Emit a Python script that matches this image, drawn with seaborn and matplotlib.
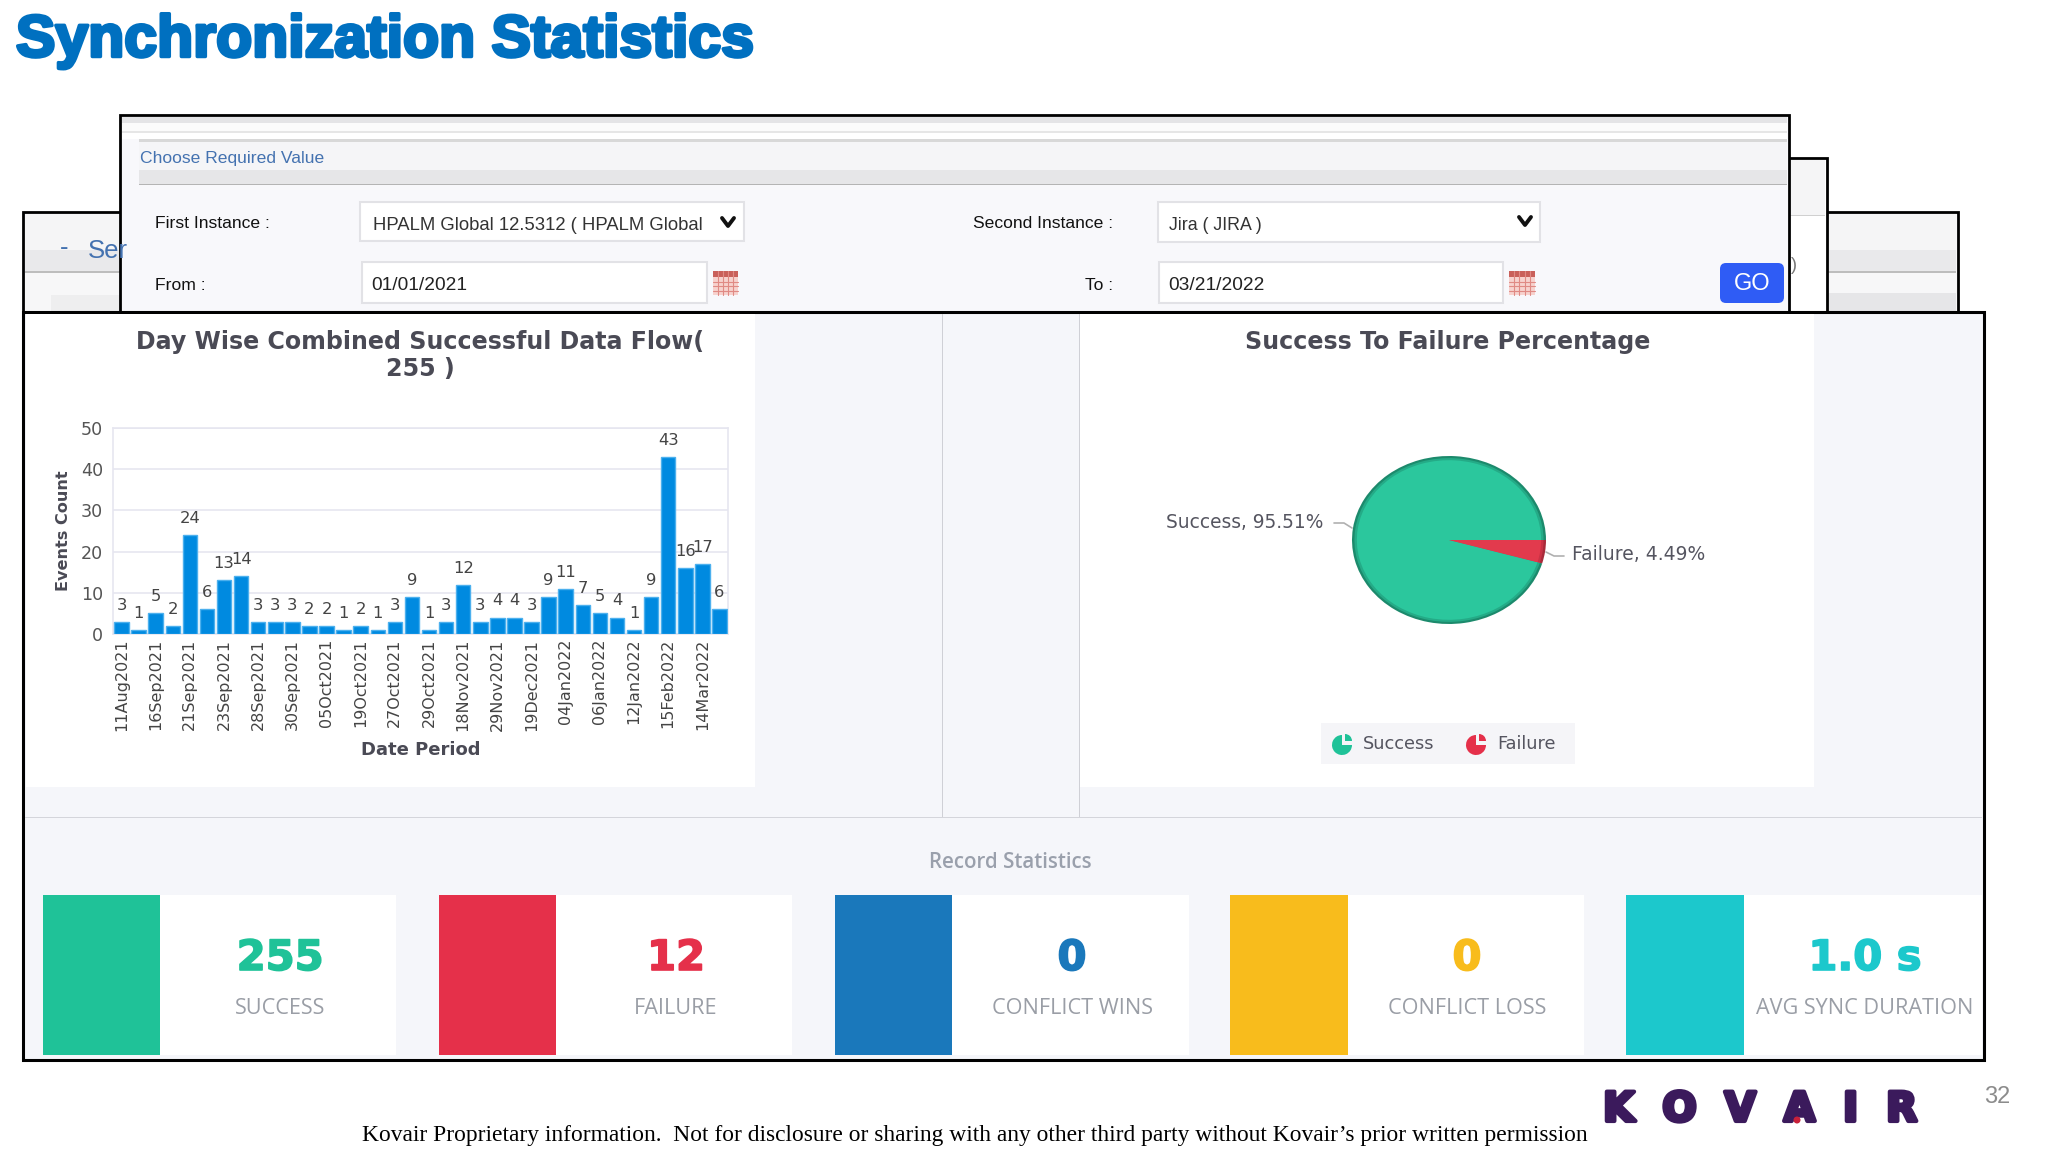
import matplotlib
matplotlib.use("Agg")
from matplotlib import pyplot as plt
from matplotlib.patches import Rectangle, Wedge, FancyBboxPatch, Circle
import matplotlib.patheffects as pe
import seaborn as sns

bar_counts = [3, 1, 5, 2, 24, 6, 13, 14, 3, 3, 3, 2, 2, 1, 2, 1, 3, 9,
              1, 3, 12, 3, 4, 4, 3, 9, 11, 7, 5, 4, 1, 9, 43, 16, 17, 6]
date_labels = ["11Aug2021", "16Sep2021", "21Sep2021", "23Sep2021", "28Sep2021", "30Sep2021",
               "05Oct2021", "19Oct2021", "27Oct2021", "29Oct2021", "18Nov2021", "29Nov2021",
               "19Dec2021", "04Jan2022", "06Jan2022", "12Jan2022", "15Feb2022", "14Mar2022"]
y_ticks = [0, 10, 20, 30, 40, 50]
pie_names = ["Success", "Failure"]
pie_values = [95.51, 4.49]
card_values = ["255", "12", "0", "0", "1.0 s"]
card_names = ["SUCCESS", "FAILURE", "CONFLICT WINS", "CONFLICT LOSS", "AVG SYNC DURATION"]
card_colors = ["#1fc298", "#e5304a", "#1a78bb", "#f8bc1c", "#1cc8cc"]
card_left = [43, 439, 835, 1230, 1626]
card_mid = [160, 556, 952, 1348, 1744]
card_right = [396, 792, 1189, 1584, 1982]
card_text_x = [280, 676, 1072, 1467, 1865]

sns.set_theme(style="white")
plt.rcParams["font.family"] = ["DejaVu Sans"]

W, H = 2048, 1152
fig = plt.figure(figsize=(20.48, 11.52), dpi=100, facecolor="white")

# whole page in pixel coordinates, for the screenshot furniture
bg = fig.add_axes([0, 0, 1, 1])
bg.set_xlim(0, W)
bg.set_ylim(H, 0)
bg.axis("off")


def box(x0, y0, x1, y1, color, edge="none", lw=0, z=1):
    bg.add_patch(Rectangle((x0, y0), x1 - x0, y1 - y0, facecolor=color, edgecolor=edge, linewidth=lw, zorder=z))


def put(x, y, s, size, color="#222222", ha="left", z=5, **kw):
    return bg.text(x, y, s, fontsize=size, color=color, ha=ha, va="center", zorder=z, **kw)


def calendar(x0, y0, x1, y1, z):
    box(x0, y0, x1, y1, "#f7d2ce", z=z)
    box(x0, y0, x1, y0 + 6, "#c9605a", z=z)
    for i in range(1, 5):
        gx = x0 + (x1 - x0) * i / 5
        bg.plot([gx, gx], [y0, y1], color="#e08a84", lw=0.8, zorder=z + 1)
    for i in range(1, 4):
        gy = y0 + 6 + (y1 - y0 - 6) * i / 4
        bg.plot([x0, x1], [gy, gy], color="#e08a84", lw=0.8, zorder=z + 1)


def chevron(x, y, z):
    bg.plot([x - 6, x, x + 6], [y - 4, y + 4, y - 4], color="#111111", lw=2.8, zorder=z)


# page title
put(16, 41, "Synchronization Statistics", 42.5, "#0070c0", fontweight="bold",
    family="Liberation Sans",
    path_effects=[pe.withStroke(linewidth=2.5, foreground="#0070c0")])

# back window on the far side
box(23, 212, 1958, 330, "#f7f7f8", "black", 2, z=1)
box(25, 214, 1956, 272, "#f5f5f6", z=1)
box(25, 250, 1956, 271, "#e9e9eb", z=1)
box(25, 271, 1956, 273, "#bdbdbd", z=1)
box(1790, 293, 1956, 312, "#e6e6e8", z=1)
box(51, 295, 130, 312, "#eeeeef", z=1)
put(60, 248, "-", 17, "#4472b0")
put(88, 251, "Ser", 18.5, "#4472b0", family="Liberation Sans")

# second window
box(1700, 158, 1827, 330, "white", "black", 2, z=2)
box(1702, 160, 1825, 215, "#f5f5f6", z=2)
box(1702, 215, 1825, 216, "#d0d0d0", z=2)
put(1791, 266, ")", 13, "#777777", z=3, family="Liberation Sans")

# form window
box(120, 115, 1789, 330, "#f8f8fb", "black", 2, z=3)
box(122, 117, 1787, 123, "#e4e4e6", z=3)
box(122, 123, 1787, 131, "#fbfbfb", z=3)
box(122, 131, 1787, 133, "#e6e6e6", z=3)
box(122, 133, 1787, 139, "white", z=3)
box(139, 139, 1787, 142, "#d8d8d8", z=3)
box(139, 142, 1787, 170, "#f5f5f7", z=3)
box(139, 170, 1787, 184, "#e6e6e8", z=3)
box(139, 184, 1787, 185, "#b4b4b4", z=3)
put(140, 159, "Choose Required Value", 12.6, "#4472b0", family="Liberation Sans")
put(155, 224, "First Instance :", 12.6, "#111111", family="Liberation Sans")
put(155, 285, "From :", 12.6, "#111111", family="Liberation Sans")
put(1113, 224, "Second Instance :", 12.6, "#111111", ha="right", family="Liberation Sans")
put(1113, 285, "To :", 12.6, "#111111", ha="right", family="Liberation Sans")
for x0, y0, x1, y1 in [(360, 202, 744, 241), (362, 262, 707, 303), (1158, 202, 1540, 242), (1159, 262, 1503, 303)]:
    box(x0, y0, x1, y1, "white", "#e2e2e6", 1.5, z=4)
put(373, 226, "HPALM Global 12.5312 ( HPALM Global", 13.3, "#333333", family="Liberation Sans")
put(371, 286, "01/01/2021", 13.8, "#222222", family="Liberation Sans")
put(1169, 226, "Jira ( JIRA )", 12.8, "#333333", family="Liberation Sans")
put(1168, 286, "03/21/2022", 13.8, "#222222", family="Liberation Sans")
chevron(728, 222, 5)
chevron(1525, 221, 5)
calendar(713, 271, 738, 295, 4)
calendar(1509, 271, 1535, 295, 4)
bg.add_patch(FancyBboxPatch((1724, 267), 56, 32, boxstyle="round,pad=4,rounding_size=6", facecolor="#2f5cf5",
                            edgecolor="none", zorder=4))
put(1752, 284, "GO", 17, "white", ha="center", family="Liberation Sans")

# main window
box(23, 312, 1984, 1060, "#f5f6fa", "black", 2.2, z=6)
box(26, 314, 755, 787, "white", z=6)
box(1080, 314, 1814, 787, "white", z=6)
box(942, 314, 943, 817, "#cfd0d6", z=6)
box(1079, 314, 1080, 817, "#cfd0d6", z=6)
box(25, 817, 1982, 818, "#d4d5db", z=6)

bg.set_zorder(1)
put(420, 342, "Day Wise Combined Successful Data Flow(", 17.1, "#4a4a55", ha="center", z=7, fontweight="bold")
put(420, 369, "255 )", 17.1, "#4a4a55", ha="center", z=7, fontweight="bold")
put(1448, 342, "Success To Failure Percentage", 17.1, "#4a4a55", ha="center", z=7, fontweight="bold")

# bar chart
ax = fig.add_axes([113 / W, 1 - 634 / H, 615 / W, 206 / H], zorder=2)
ax.patch.set_alpha(0)
sns.barplot(x=list(range(len(bar_counts))), y=bar_counts, color="#008ae0", saturation=1, width=0.85,
            edgecolor="#4cb0ee", linewidth=1, ax=ax, zorder=3)
ax.set_xlim(-0.5, len(bar_counts) - 0.5)
ax.set_ylim(0, 50)
ax.set_yticks(y_ticks)
ax.set_xticks(range(0, len(bar_counts), 2))
ax.set_xticklabels(date_labels, rotation=90, fontsize=11.5, color="#444444")
ax.tick_params(axis="x", length=0, pad=3.5)
ax.tick_params(axis="y", length=0, pad=7, labelsize=12.6, labelcolor="#555555")
ax.grid(axis="y", color="#e6e6f0", lw=1.2, zorder=0)
ax.set_axisbelow(True)
for s in ax.spines.values():
    s.set_color("#e6e6f0")
    s.set_linewidth(1.2)
ax.bar_label(ax.containers[0], padding=6.5, fontsize=11.8, color="#444444")
ax.set_xlabel("Date Period", fontsize=13, fontweight="bold", color="#4a4a55", labelpad=7)
ax.set_ylabel("Events Count", fontsize=11.6, fontweight="bold", color="#4a4a55", labelpad=7)

# pie, stretched like the screenshot
pax = fig.add_axes([(1449 - 97) / W, 1 - (540 + 84) / H, 194 / W, 168 / H], zorder=2)
pax.pie(pie_values, colors=["#1c8a6c", "#a82a3a"], startangle=0, radius=1, wedgeprops={"linewidth": 0})
pax.pie(pie_values, colors=["#24ab87", "#c93245"], startangle=0, radius=0.975, wedgeprops={"linewidth": 0})
pax.pie(pie_values, colors=["#2bc79d", "#e23a4d"], startangle=0, radius=0.95, wedgeprops={"linewidth": 0})
pax.set_aspect("auto")
pax.set_xlim(-1, 1)
pax.set_ylim(-1, 1)

put(1166, 523, f"{pie_names[0]}, {pie_values[0]}%", 13.4, "#555560", z=7)
put(1572, 555, f"{pie_names[1]}, {pie_values[1]}%", 13.5, "#555560", z=7)
bg.plot([1334, 1344, 1352], [523, 523, 528], color="#b0b0b0", lw=1.2, zorder=7)
bg.plot([1546, 1554, 1564], [552, 556, 556], color="#b0b0b0", lw=1.2, zorder=7)

# pie legend
box(1321, 723, 1575, 764, "#f5f5f8", z=7)
for icon_x, label_x, name, col in zip([1342, 1476], [1363, 1497], pie_names, ["#1fc298", "#e5304a"]):
    bg.add_patch(Wedge((icon_x, 745), 10, 0, 270, facecolor=col, edgecolor="none", zorder=8))
    bg.add_patch(Wedge((icon_x + 3, 741), 7, 270, 360, facecolor=col, edgecolor="none", zorder=8))
    put(label_x, 744, name, 12.8, "#555560", z=8)

# record statistics cards
put(1010, 862, "Record Statistics", 14.8, "#9aa0ac", ha="center", z=7, family="Open Sans", fontweight="semibold")
for i in range(len(card_values)):
    box(card_left[i], 895, card_right[i], 1055, "white", z=7)
    box(card_left[i], 895, card_mid[i], 1055, card_colors[i], z=8)
    put(card_text_x[i], 958, card_values[i], 30, card_colors[i], ha="center", z=8, fontweight="bold",
        path_effects=[pe.withStroke(linewidth=1.2, foreground=card_colors[i])])
    put(card_text_x[i], 1008, card_names[i], 15.6, "#9a9ea6", ha="center", z=8, family="Open Sans")

# footer
put(362, 1136, "Kovair Proprietary information.  Not for disclosure or sharing with any other third party "
    "without Kovair\u2019s prior written permission", 16.9, "black", family="Liberation Serif")
put(1760, 1110, "K  O  V  A  I  R", 29, "#3b1a5c", ha="center", fontweight="bold",
    path_effects=[pe.withStroke(linewidth=3, foreground="#3b1a5c")])
bg.add_patch(Circle((1797, 1120), 3.5, facecolor="#c8203a", edgecolor="none", zorder=6))
put(1997, 1097, "32", 17, "#8c8c8c", ha="center", family="Liberation Sans")

fig.savefig("out.png", dpi=100)
